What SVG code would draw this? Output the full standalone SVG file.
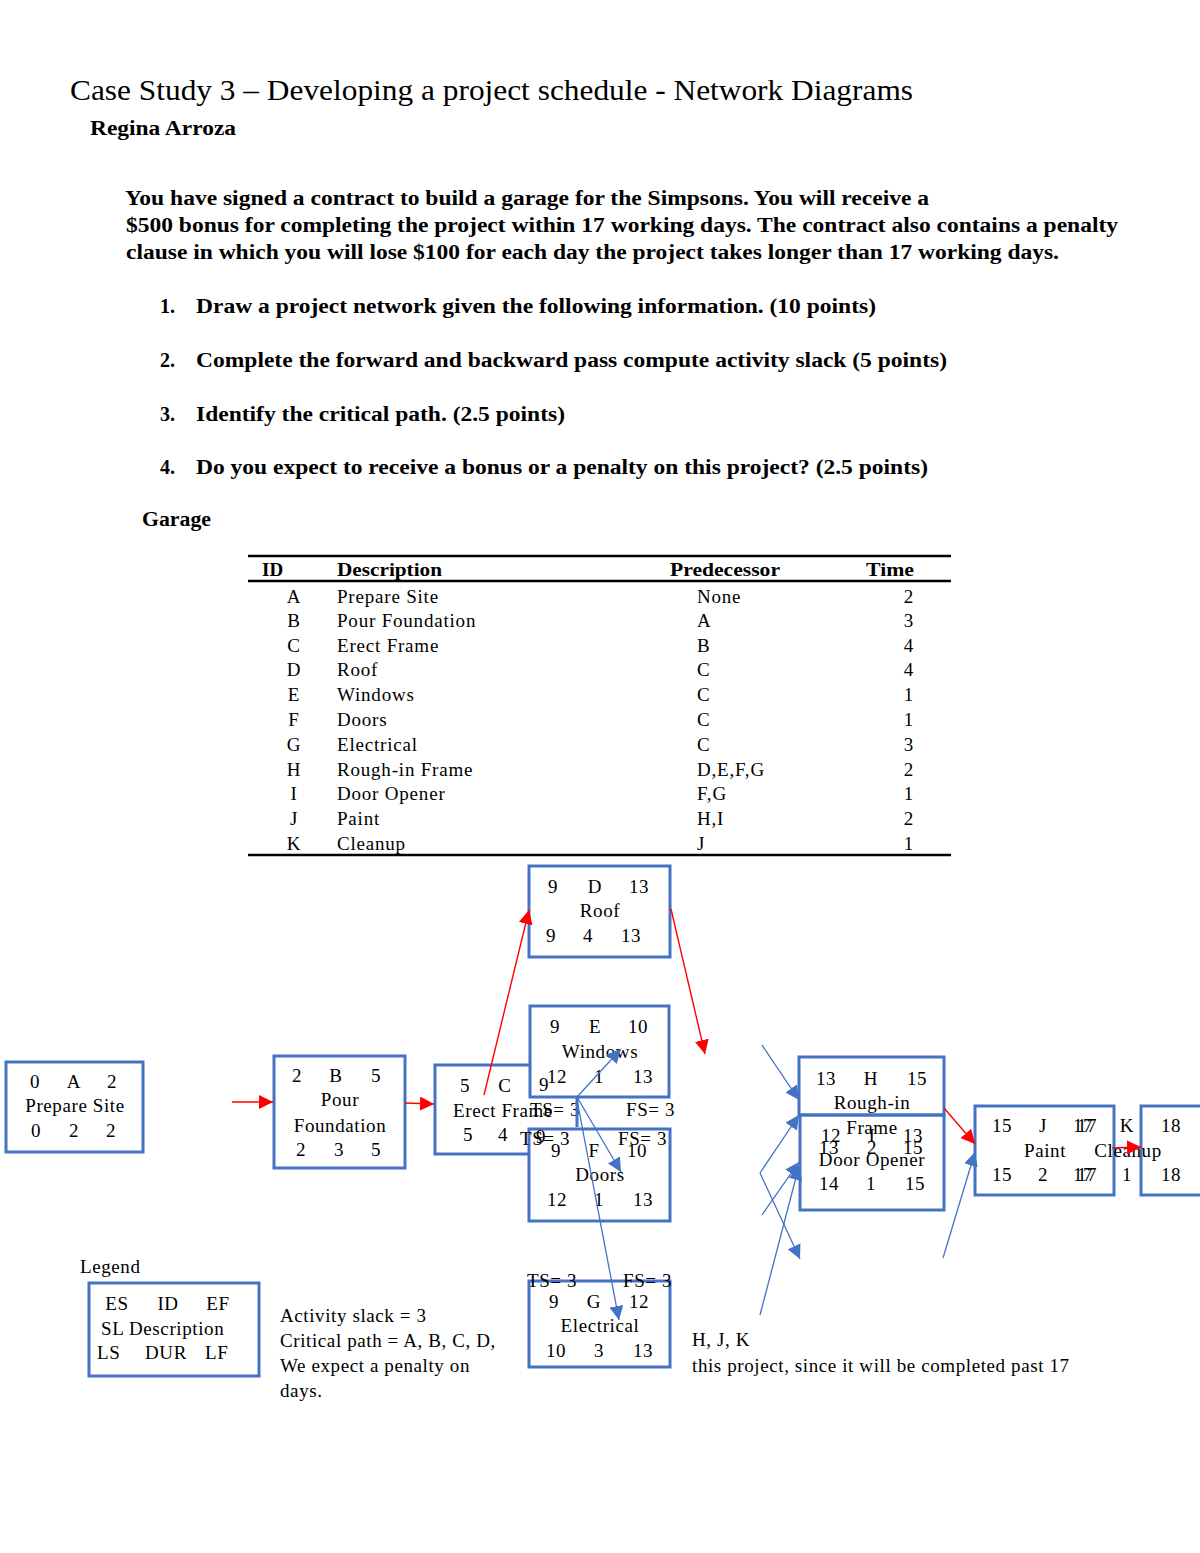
<svg xmlns="http://www.w3.org/2000/svg" width="1200" height="1553" viewBox="0 0 1200 1553">
<defs>
<style>
text{font-family:"Liberation Serif","Times New Roman",serif;fill:#000}
.title{font-size:30px}
.b{font-weight:bold;font-size:20px}
.tb{font-size:19px;letter-spacing:0.8px}
.th{font-size:19px;font-weight:bold}
.n{font-size:19px;letter-spacing:0.6px}
.m{text-anchor:middle}
.sm{font-size:16px}
.box{fill:#fff;stroke:#4472C4;stroke-width:3}
.boxo{fill:none;stroke:#4472C4;stroke-width:3}
.rl{stroke:#FF0000;stroke-width:1.4;fill:none}
.bl{stroke:#4472C4;stroke-width:1.3;fill:none}
.rule{stroke:#000;stroke-width:2.5}
</style>
<marker id="ra" markerUnits="userSpaceOnUse" markerWidth="16" markerHeight="14" refX="14" refY="7" orient="auto"><path d="M0,0 L14,7 L0,14 z" fill="#FF0000"/></marker>
<marker id="ba" markerUnits="userSpaceOnUse" markerWidth="16" markerHeight="14" refX="14" refY="7" orient="auto"><path d="M0,0 L14,7 L0,14 z" fill="#4472C4"/></marker>
</defs>

<g id="header">
<text class="title" x="70" y="100" textLength="843" lengthAdjust="spacingAndGlyphs">Case Study 3 – Developing a project schedule - Network Diagrams</text>
<text class="b" x="90" y="135" textLength="146" lengthAdjust="spacingAndGlyphs">Regina Arroza</text>
<text class="b" x="125" y="205" textLength="804" lengthAdjust="spacingAndGlyphs">You have signed a contract to build a garage for the Simpsons. You will receive a</text>
<text class="b" x="126" y="232" textLength="992" lengthAdjust="spacingAndGlyphs">$500 bonus for completing the project within 17 working days. The contract also contains a penalty</text>
<text class="b" x="126" y="259" textLength="933" lengthAdjust="spacingAndGlyphs">clause in which you will lose $100 for each day the project takes longer than 17 working days.</text>
<text class="b" x="160" y="313">1.</text>
<text class="b" x="196" y="313" textLength="680" lengthAdjust="spacingAndGlyphs">Draw a project network given the following information. (10 points)</text>
<text class="b" x="160" y="367">2.</text>
<text class="b" x="196" y="367" textLength="751" lengthAdjust="spacingAndGlyphs">Complete the forward and backward pass compute activity slack (5 points)</text>
<text class="b" x="160" y="421">3.</text>
<text class="b" x="196" y="421" textLength="369" lengthAdjust="spacingAndGlyphs">Identify the critical path. (2.5 points)</text>
<text class="b" x="160" y="474">4.</text>
<text class="b" x="196" y="474" textLength="732" lengthAdjust="spacingAndGlyphs">Do you expect to receive a bonus or a penalty on this project? (2.5 points)</text>
<text class="b" x="142" y="526" textLength="69" lengthAdjust="spacingAndGlyphs">Garage</text>
</g>

<g id="table">
<line class="rule" x1="248" y1="556" x2="951" y2="556"/>
<line class="rule" x1="248" y1="581" x2="951" y2="581"/>
<line class="rule" x1="248" y1="855" x2="951" y2="855"/>
<text class="th" x="262" y="576">ID</text>
<text class="th" x="337" y="576" textLength="105" lengthAdjust="spacingAndGlyphs">Description</text>
<text class="th" x="670" y="576" textLength="110" lengthAdjust="spacingAndGlyphs">Predecessor</text>
<text class="th" x="866" y="576" textLength="48" lengthAdjust="spacingAndGlyphs">Time</text>
<g class="tb">
<text class="m" x="294" y="603">A</text><text x="337" y="603">Prepare Site</text><text x="697" y="603">None</text><text x="914" y="603" text-anchor="end">2</text>
<text class="m" x="294" y="627">B</text><text x="337" y="627">Pour Foundation</text><text x="697" y="627">A</text><text x="914" y="627" text-anchor="end">3</text>
<text class="m" x="294" y="652">C</text><text x="337" y="652">Erect Frame</text><text x="697" y="652">B</text><text x="914" y="652" text-anchor="end">4</text>
<text class="m" x="294" y="676">D</text><text x="337" y="676">Roof</text><text x="697" y="676">C</text><text x="914" y="676" text-anchor="end">4</text>
<text class="m" x="294" y="701">E</text><text x="337" y="701">Windows</text><text x="697" y="701">C</text><text x="914" y="701" text-anchor="end">1</text>
<text class="m" x="294" y="726">F</text><text x="337" y="726">Doors</text><text x="697" y="726">C</text><text x="914" y="726" text-anchor="end">1</text>
<text class="m" x="294" y="751">G</text><text x="337" y="751">Electrical</text><text x="697" y="751">C</text><text x="914" y="751" text-anchor="end">3</text>
<text class="m" x="294" y="776">H</text><text x="337" y="776">Rough-in Frame</text><text x="697" y="776">D,E,F,G</text><text x="914" y="776" text-anchor="end">2</text>
<text class="m" x="294" y="800">I</text><text x="337" y="800">Door Opener</text><text x="697" y="800">F,G</text><text x="914" y="800" text-anchor="end">1</text>
<text class="m" x="294" y="825">J</text><text x="337" y="825">Paint</text><text x="697" y="825">H,I</text><text x="914" y="825" text-anchor="end">2</text>
<text class="m" x="294" y="850">K</text><text x="337" y="850">Cleanup</text><text x="697" y="850">J</text><text x="914" y="850" text-anchor="end">1</text>
</g>
</g>

<g id="node-A" class="n">
<rect class="box" x="6" y="1062" width="137" height="90"/>
<text class="m" x="35" y="1088">0</text><text class="m" x="74" y="1088">A</text><text class="m" x="112" y="1088">2</text>
<text class="m" x="75" y="1112">Prepare Site</text>
<text class="m" x="36" y="1137">0</text><text class="m" x="74" y="1137">2</text><text class="m" x="111" y="1137">2</text>
</g>

<g id="node-B" class="n">
<rect class="box" x="274" y="1056" width="131" height="112"/>
<text class="m" x="297" y="1082">2</text><text class="m" x="336" y="1082">B</text><text class="m" x="376" y="1082">5</text>
<text class="m" x="340" y="1106">Pour</text>
<text class="m" x="340" y="1132">Foundation</text>
<text class="m" x="301" y="1156">2</text><text class="m" x="339" y="1156">3</text><text class="m" x="376" y="1156">5</text>
</g>

<g id="node-C" class="n">
<path class="boxo" d="M530,1065 H435 V1154 H530"/>
<text class="m" x="465" y="1092">5</text><text class="m" x="505" y="1092">C</text>
<text x="453" y="1117">Erect Frame</text>
<text class="m" x="468" y="1141">5</text><text class="m" x="503" y="1141">4</text>
</g>

<g id="node-D" class="n">
<rect class="box" x="529" y="866" width="141" height="91"/>
<text class="m" x="553" y="893">9</text><text class="m" x="595" y="893">D</text><text class="m" x="639" y="893">13</text>
<text class="m" x="600" y="917">Roof</text>
<text class="m" x="551" y="942">9</text><text class="m" x="588" y="942">4</text><text class="m" x="631" y="942">13</text>
</g>

<g id="node-E" class="n">
<rect class="box" x="530" y="1006" width="139" height="91"/>
<text class="m" x="555" y="1033">9</text><text class="m" x="595" y="1033">E</text><text class="m" x="638" y="1033">10</text>
<text class="m" x="600" y="1058">Windows</text>
<text class="m" x="557" y="1083">12</text><text class="m" x="599" y="1083">1</text><text class="m" x="643" y="1083">13</text>
<text class="m" x="544" y="1091">9</text>
</g>

<g id="node-F" class="n">
<rect class="box" x="529" y="1129" width="141" height="92"/>
<text class="m" x="556" y="1157">9</text><text class="m" x="594" y="1157">F</text><text class="m" x="637" y="1157">10</text>
<text class="m" x="600" y="1181">Doors</text>
<text class="m" x="557" y="1206">12</text><text class="m" x="599" y="1206">1</text><text class="m" x="643" y="1206">13</text>
<text class="m" x="541" y="1143">9</text>
</g>

<g id="node-G" class="n">
<rect class="box" x="529" y="1281" width="141" height="86"/>
<text class="m" x="554" y="1308">9</text><text class="m" x="594" y="1308">G</text><text class="m" x="639" y="1308">12</text>
<text class="m" x="600" y="1332">Electrical</text>
<text class="m" x="556" y="1357">10</text><text class="m" x="599" y="1357">3</text><text class="m" x="643" y="1357">13</text>
</g>

<g id="slack-labels" class="n">
<text x="530" y="1116">TS= 3</text><text x="626" y="1116">FS= 3</text>
<text x="520" y="1145">TS= 3</text><text x="618" y="1145">FS= 3</text>
<text x="527" y="1287">TS= 3</text><text x="623" y="1287">FS= 3</text>
</g>

<g id="node-H" class="n">
<rect class="box" x="799" y="1057" width="145" height="58"/>
<text class="m" x="826" y="1085">13</text><text class="m" x="871" y="1085">H</text><text class="m" x="917" y="1085">15</text>
<text class="m" x="872" y="1109">Rough-in</text>
</g>

<g id="node-I" class="n">
<rect class="boxo" x="800" y="1115" width="144" height="95"/>
<text class="m" x="872" y="1134">Frame</text>
<text class="m" x="831" y="1142">12</text><text class="m" x="872" y="1142">I</text><text class="m" x="913" y="1142">13</text>
<text class="m" x="829" y="1154">13</text><text class="m" x="872" y="1154">2</text><text class="m" x="913" y="1154">15</text>
<text class="m" x="872" y="1166">Door Opener</text>
<text class="m" x="829" y="1190">14</text><text class="m" x="871" y="1190">1</text><text class="m" x="915" y="1190">15</text>
</g>

<g id="node-J" class="n">
<rect class="box" x="975" y="1106" width="139" height="89"/>
<text class="m" x="1002" y="1132">15</text><text class="m" x="1043" y="1132">J</text><text class="m" x="1083" y="1132">17</text><text class="m" x="1087" y="1132">17</text>
<text class="m" x="1045" y="1157">Paint</text>
<text class="m" x="1002" y="1181">15</text><text class="m" x="1043" y="1181">2</text><text class="m" x="1083" y="1181">17</text><text class="m" x="1087" y="1181">17</text>
</g>

<g id="node-K" class="n">
<rect class="box" x="1141" y="1106" width="70" height="89"/>
<text class="m" x="1127" y="1132">K</text>
<text class="m" x="1128" y="1157">Cleanup</text>
<text class="m" x="1127" y="1181">1</text>
<text class="m" x="1171" y="1132">18</text>
<text class="m" x="1171" y="1181">18</text>
</g>

<g id="connectors">
<line class="rl" x1="232" y1="1102" x2="273" y2="1102" marker-end="url(#ra)"/>
<line class="rl" x1="405" y1="1103" x2="434" y2="1104" marker-end="url(#ra)"/>
<line class="rl" x1="484" y1="1095" x2="529" y2="910" marker-end="url(#ra)"/>
<line class="rl" x1="671" y1="909" x2="705" y2="1054" marker-end="url(#ra)"/>
<line class="rl" x1="944" y1="1108" x2="975" y2="1144" marker-end="url(#ra)"/>
<line class="rl" x1="1112" y1="1148" x2="1141" y2="1147" marker-end="url(#ra)"/>
<line stroke="#4472C4" stroke-width="3" x1="577" y1="1097" x2="577" y2="1127"/>
<line class="bl" x1="577" y1="1097" x2="621" y2="1049" marker-end="url(#ba)"/>
<line class="bl" x1="577" y1="1097" x2="621" y2="1172" marker-end="url(#ba)"/>
<line class="bl" x1="577" y1="1100" x2="619" y2="1320" marker-end="url(#ba)"/>
<line class="bl" x1="762" y1="1045" x2="799" y2="1100" marker-end="url(#ba)"/>
<line class="bl" x1="760" y1="1173" x2="799" y2="1115" marker-end="url(#ba)"/>
<line class="bl" x1="760" y1="1173" x2="800" y2="1259" marker-end="url(#ba)"/>
<line class="bl" x1="762" y1="1215" x2="799" y2="1162" marker-end="url(#ba)"/>
<line class="bl" x1="760" y1="1315" x2="799" y2="1166" marker-end="url(#ba)"/>
<line class="bl" x1="943" y1="1258" x2="975" y2="1152" marker-end="url(#ba)"/>
</g>

<g id="legend" class="n">
<text x="80" y="1273">Legend</text>
<rect class="box" x="89" y="1283" width="170" height="93"/>
<text class="m" x="117" y="1310">ES</text><text class="m" x="168" y="1310">ID</text><text class="m" x="218" y="1310">EF</text>
<text x="101" y="1335">SL  Description</text>
<text x="97" y="1359">LS</text><text x="145" y="1359">DUR</text><text x="205" y="1359">LF</text>
</g>

<g id="answers" class="n">
<text x="280" y="1322">Activity slack = 3</text>
<text x="280" y="1347">Critical path = A, B, C, D,</text>
<text x="280" y="1372">We expect a penalty on</text>
<text x="280" y="1397">days.</text>
<text x="692" y="1346">H, J, K</text>
<text x="692" y="1372">this project, since it will be completed past 17</text>
</g>
</svg>
